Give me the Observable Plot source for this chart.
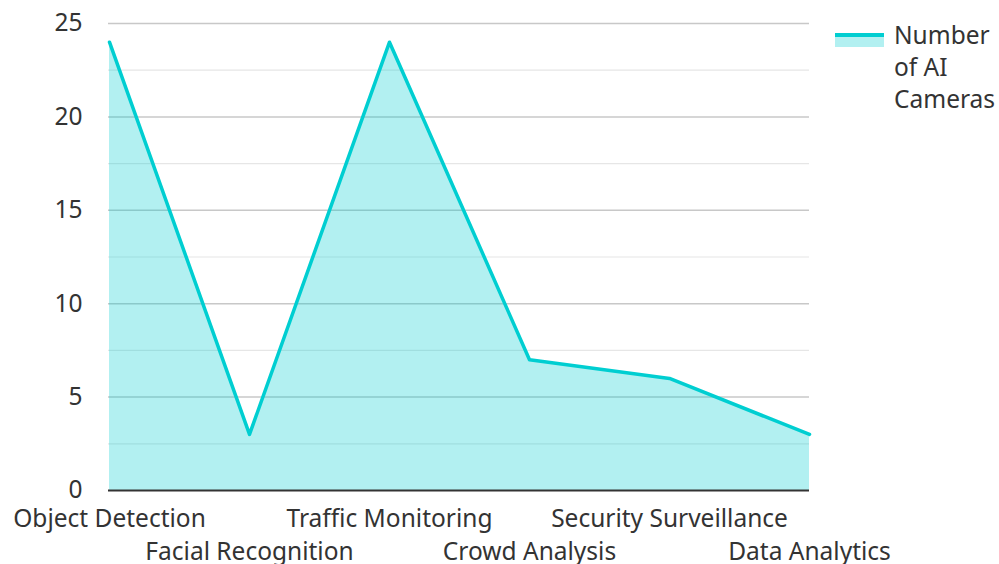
<!DOCTYPE html>
<html>
<head>
<meta charset="utf-8">
<script src="https://cdn.jsdelivr.net/npm/d3@7"></script>
<script src="https://cdn.jsdelivr.net/npm/@observablehq/plot@0.6"></script>
<style>
  html, body { margin: 0; padding: 0; background: #fff; }
  #wrap { position: relative; width: 999px; height: 564px; font-family: "Noto Sans", sans-serif; }
  #legend { position: absolute; left: 835px; top: 19px; display: flex; align-items: flex-start; color: #333; font-size: 24.5px; line-height: 32px; }
  #legend .sw { width: 49px; height: 14px; margin-top: 14px; margin-right: 10px; position: relative; }
  #legend .sw .f { position: absolute; left: 0; top: 2px; width: 49px; height: 12px; background: rgba(0,206,209,0.3); }
  #legend .sw .l { position: absolute; left: 0; top: 0; width: 49px; height: 3.5px; background: #00CED1; }
</style>
</head>
<body>
<div id="wrap"><div id="chart"></div>
<div id="legend"><div class="sw"><div class="f"></div><div class="l"></div></div><div id="legtext">Number<br>of AI<br>Cameras</div></div>
</div>
<script>
const categories = ["Object Detection", "Facial Recognition", "Traffic Monitoring", "Crowd Analysis", "Security Surveillance", "Data Analytics"];
const cameras = [24, 3, 24, 7, 6, 3];
const majorTicks = [0, 5, 10, 15, 20, 25];
const minorTicks = [2.5, 7.5, 12.5, 17.5, 22.5];
const seriesName = "Number of AI Cameras";

const data = categories.map((c, i) => ({category: c, value: cameras[i]}));
const rowA = categories.filter((c, i) => i % 2 === 0);
const rowB = categories.filter((c, i) => i % 2 === 1);

const chart = Plot.plot({
  width: 999,
  height: 564,
  marginTop: 23,
  marginBottom: 74,
  marginLeft: 108,
  marginRight: 190,
  style: {fontFamily: "Noto Sans, sans-serif", fontSize: "24.5px", color: "#333", background: "#fff"},
  x: {type: "point", domain: categories, padding: 0},
  y: {domain: [0, 25]},
  marks: [
    Plot.ruleY(minorTicks, {stroke: "#e6e6e6", strokeWidth: 1.2}),
    Plot.ruleY(majorTicks.filter(d => d !== 0), {stroke: "#c8c8c8", strokeWidth: 1.5}),
    Plot.areaY(data, {x: "category", y: "value", fill: "#00CED1", fillOpacity: 0.3}),
    Plot.lineY(data, {x: "category", y: "value", stroke: "#00CED1", strokeWidth: 3.5}),
    Plot.ruleY([0], {stroke: "#333", strokeWidth: 2}),
    Plot.axisY({ticks: majorTicks, tickSize: 0, tickPadding: 26, label: null, fontSize: 24.5, fill: "#333"}),
    Plot.axisX({ticks: rowA, tickSize: 0, tickPadding: 19, label: null, fontSize: 24.5, fill: "#333"}),
    Plot.axisX({ticks: rowB, tickSize: 0, tickPadding: 52, label: null, fontSize: 24.5, fill: "#333"})
  ]
});
document.getElementById("chart").appendChild(chart);
</script>
</body>
</html>
